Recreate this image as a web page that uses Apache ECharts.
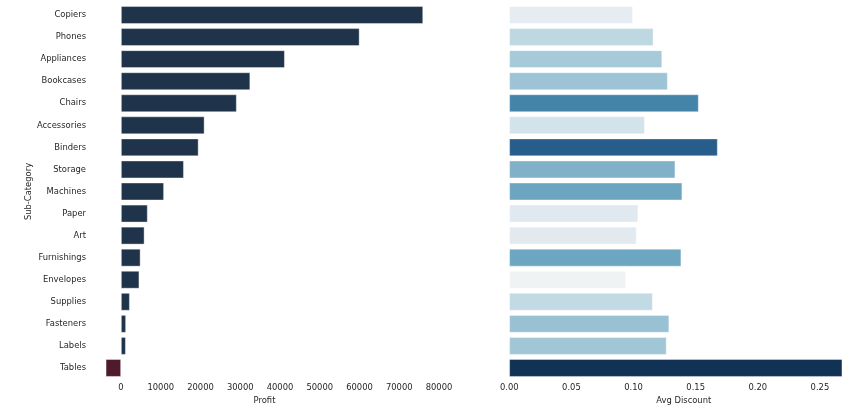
<!DOCTYPE html>
<html>
<head>
<meta charset="utf-8">
<script src="https://cdn.jsdelivr.net/npm/echarts@6/dist/echarts.min.js"></script>
<style>
html,body{margin:0;padding:0;background:#fff;}
#chart{width:859px;height:415px;}
</style>
</head>
<body>
<div id="chart"></div>
<script>
// ---- data ----
const categories = ["Copiers","Phones","Appliances","Bookcases","Chairs","Accessories","Binders","Storage","Machines","Paper","Art","Furnishings","Envelopes","Supplies","Fasteners","Labels","Tables"];
const profit = [76000, 60000, 41200, 32500, 29100, 21000, 19500, 15800, 10800, 6700, 5900, 4900, 4600, 2200, 1250, 1200, -3850];
const avgDiscount = [0.0995, 0.116, 0.123, 0.1275, 0.1524, 0.109, 0.1677, 0.1336, 0.1392, 0.1038, 0.1025, 0.1384, 0.0939, 0.1154, 0.1287, 0.1266, 0.268];
const profitTicks = [0, 10000, 20000, 30000, 40000, 50000, 60000, 70000, 80000];
const discountTicks = [0, 0.05, 0.10, 0.15, 0.20, 0.25];

// ---- styles ----
const discountColors = ["#e6edf2","#bed8e2","#a7cad9","#9dc3d4","#4484a9","#d3e3ea","#285d8b","#80b1c9","#6ca5c0","#e1e9f0","#e2eaf0","#6da6c0","#eff3f4","#c1dae4","#98c1d4","#a1c7d6","#113255"];
const posColor = "#1f344a", negColor = "#501a2d";
const txt = "#262626";
const font = "DejaVu Sans";
const fs = 8.4;

const chart = echarts.init(document.getElementById('chart'), null, {renderer: 'canvas'});
const commonCat = {
  type: 'category', data: categories, inverse: true,
  axisLine: {show: false}, axisTick: {show: false}, splitLine: {show: false}
};
chart.setOption({
  animation: false,
  backgroundColor: '#fff',
  grid: [
    {left: 90, width: 349, top: 4, bottom: 36, outerBoundsMode: 'none', containLabel: false},
    {left: 492.6, width: 382.4, top: 4, bottom: 36, outerBoundsMode: 'none', containLabel: false}
  ],
  xAxis: [
    {
      gridIndex: 0, type: 'value', min: -7800, max: 80000,
      name: 'Profit', nameLocation: 'middle', nameGap: 18,
      nameTextStyle: {color: txt, fontFamily: font, fontSize: fs},
      axisLine: {show: false}, axisTick: {show: false}, splitLine: {show: false},
      axisLabel: {customValues: profitTicks, color: txt, fontFamily: font, fontSize: fs, margin: 5,
        formatter: v => String(Math.round(v))}
    },
    {
      gridIndex: 1, type: 'value', min: -0.0134, max: 0.2943,
      name: 'Avg Discount', nameLocation: 'middle', nameGap: 18,
      nameTextStyle: {color: txt, fontFamily: font, fontSize: fs},
      axisLine: {show: false}, axisTick: {show: false}, splitLine: {show: false},
      axisLabel: {customValues: discountTicks, color: txt, fontFamily: font, fontSize: fs, margin: 5,
        formatter: v => v.toFixed(2)}
    }
  ],
  yAxis: [
    Object.assign({}, commonCat, {
      gridIndex: 0,
      name: 'Sub-Category', nameLocation: 'middle', nameGap: 55,
      nameTextStyle: {color: txt, fontFamily: font, fontSize: fs},
      axisLabel: {color: txt, fontFamily: font, fontSize: fs, margin: 4, padding: [2, 0, 0, 0]}
    }),
    Object.assign({}, commonCat, {gridIndex: 1, axisLabel: {show: false}})
  ],
  series: [
    {
      type: 'bar', xAxisIndex: 0, yAxisIndex: 0, barWidth: '80%',
      data: profit.map(v => ({value: v, itemStyle: {color: v < 0 ? negColor : posColor}})),
      itemStyle: {borderColor: 'rgba(255,255,255,0.55)', borderWidth: 0.7}
    },
    {
      type: 'bar', xAxisIndex: 1, yAxisIndex: 1, barWidth: '80%',
      data: avgDiscount.map((v, i) => ({value: v, itemStyle: {color: discountColors[i]}})),
      itemStyle: {borderColor: 'rgba(255,255,255,0.55)', borderWidth: 0.7}
    }
  ]
});
</script>
</body>
</html>
